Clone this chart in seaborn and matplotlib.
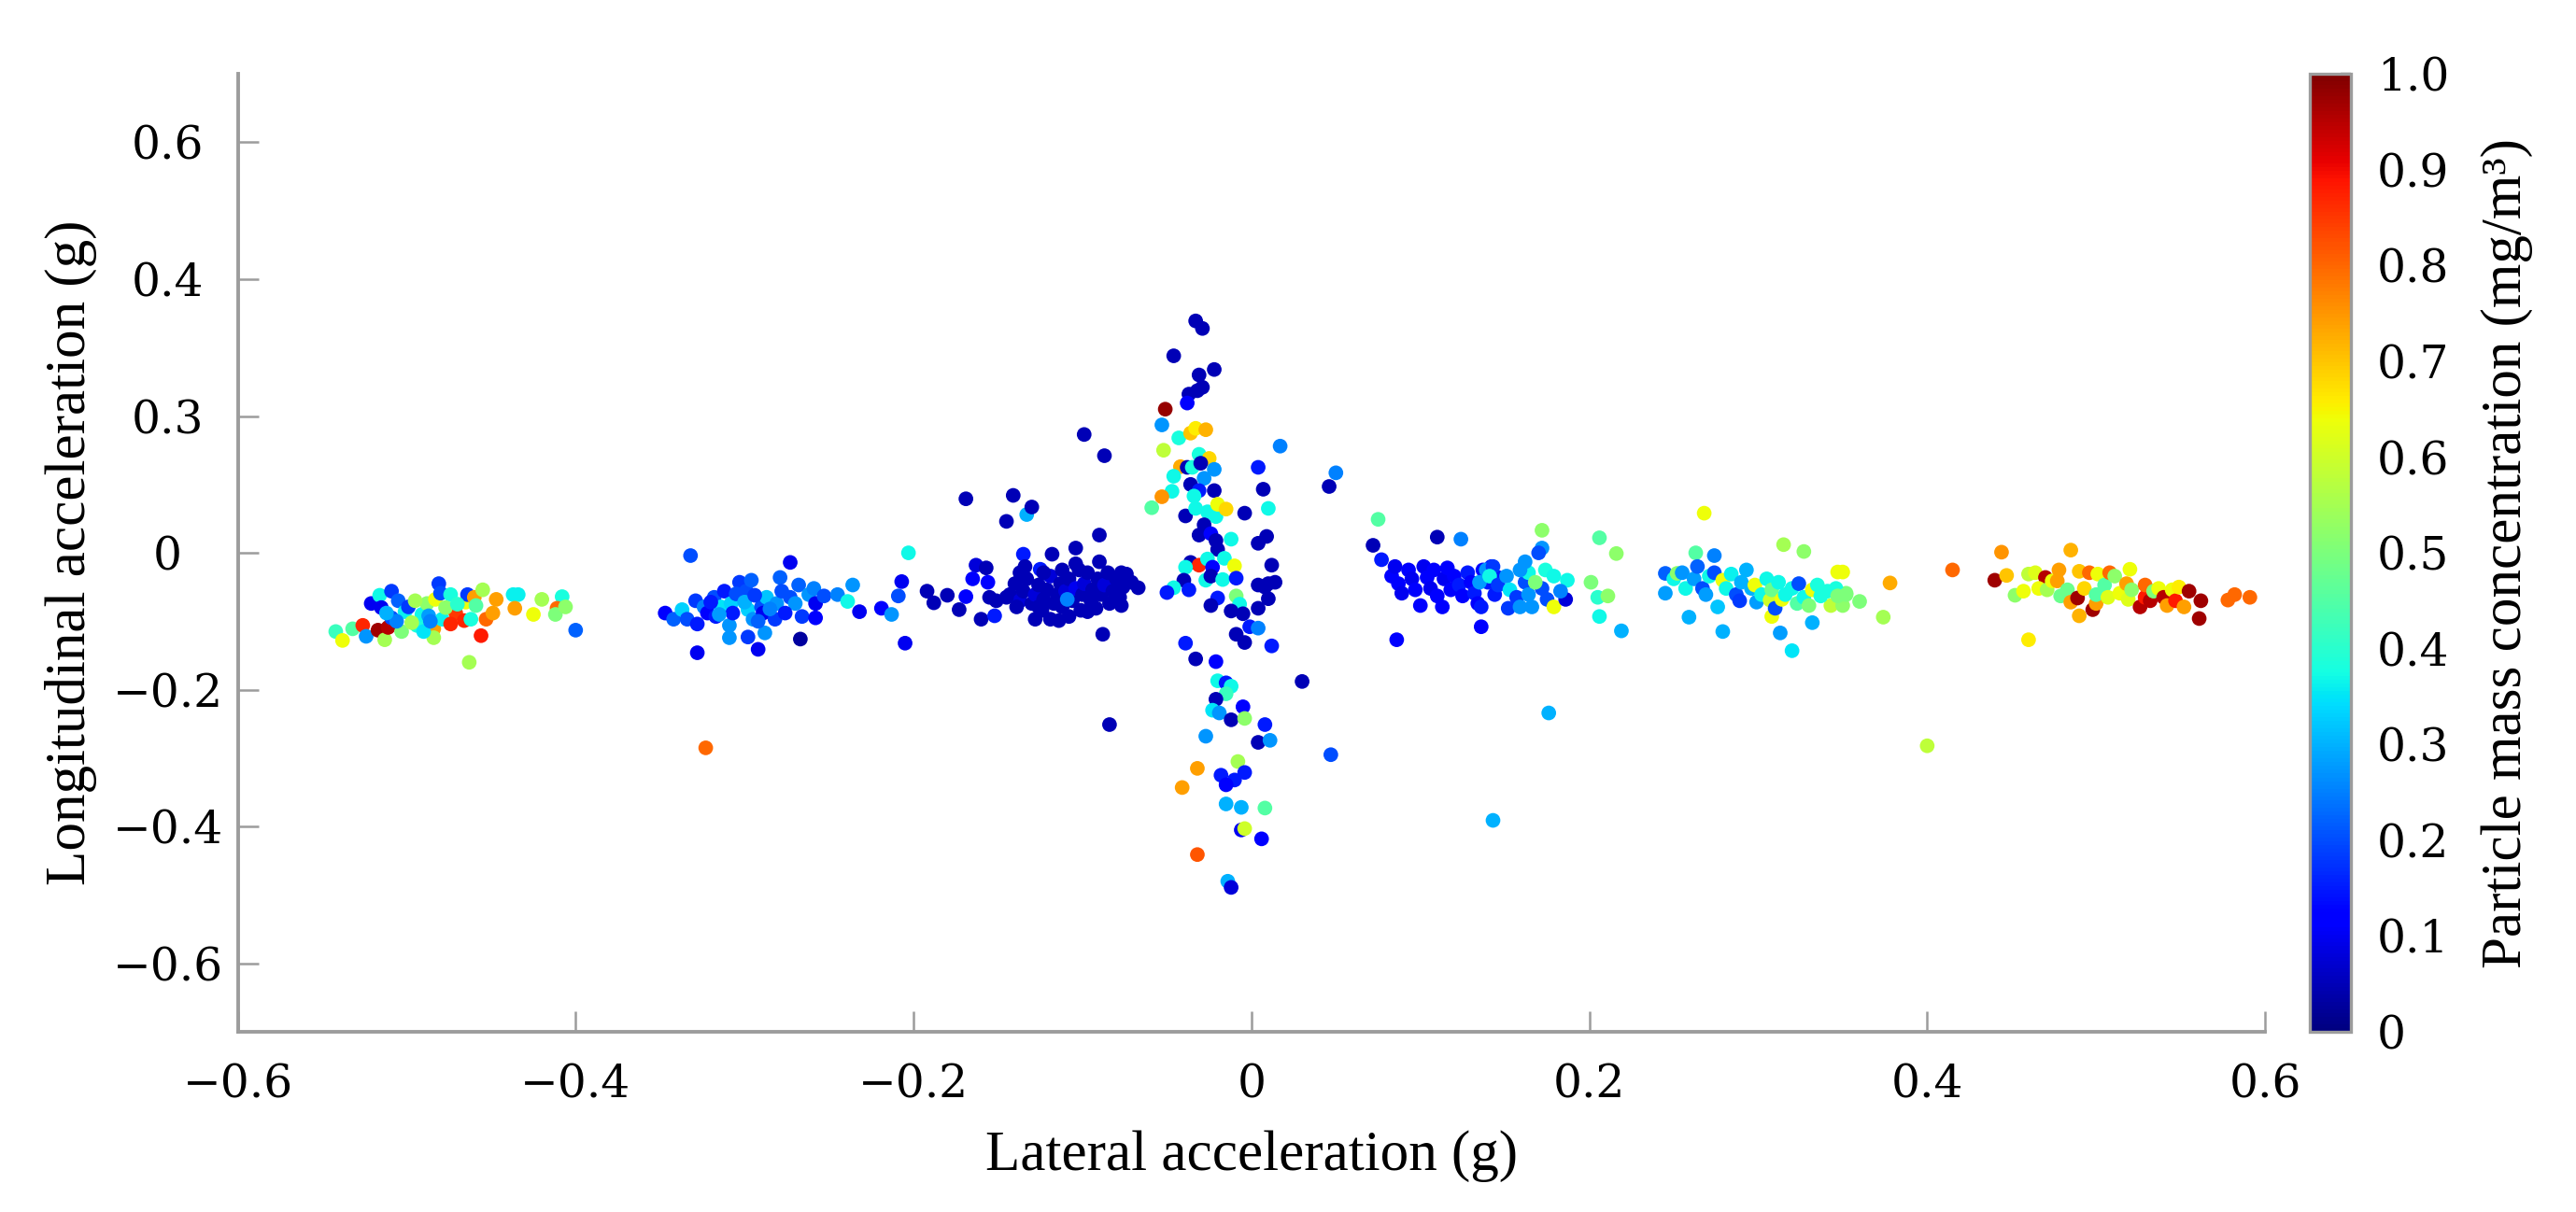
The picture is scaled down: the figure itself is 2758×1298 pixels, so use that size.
import numpy as np
import pandas as pd
import seaborn as sns
import matplotlib.pyplot as plt
from matplotlib.cm import ScalarMappable
from matplotlib.colors import Normalize

# (lateral g, longitudinal g, particle mass concentration mg/m3)
left_turn_hard = [
    (-0.542, -0.115, 0.42), (-0.538, -0.128, 0.64), (-0.532, -0.111, 0.45), (-0.526, -0.106, 0.87),
    (-0.524, -0.122, 0.27), (-0.521, -0.074, 0.10), (-0.516, -0.062, 0.37), (-0.515, -0.080, 0.10),
    (-0.517, -0.113, 0.97), (-0.513, -0.127, 0.55), (-0.511, -0.109, 0.95), (-0.509, -0.056, 0.18),
    (-0.509, -0.095, 0.20), (-0.505, -0.070, 0.22), (-0.501, -0.086, 0.36), (-0.499, -0.079, 0.18),
    (-0.503, -0.115, 0.50), (-0.506, -0.100, 0.25), (-0.494, -0.106, 0.38), (-0.491, -0.090, 0.37),
    (-0.488, -0.074, 0.52), (-0.487, -0.092, 0.28), (-0.483, -0.068, 0.64), (-0.481, -0.045, 0.18),
    (-0.480, -0.059, 0.20), (-0.484, -0.111, 0.74), (-0.484, -0.124, 0.55), (-0.479, -0.097, 0.36),
    (-0.474, -0.061, 0.38), (-0.471, -0.088, 0.85), (-0.474, -0.104, 0.87), (-0.466, -0.099, 0.87),
    (-0.465, -0.072, 0.64), (-0.464, -0.061, 0.18), (-0.462, -0.097, 0.38), (-0.460, -0.065, 0.74),
    (-0.459, -0.077, 0.45), (-0.456, -0.121, 0.88), (-0.455, -0.054, 0.55), (-0.453, -0.097, 0.80),
    (-0.449, -0.088, 0.74), (-0.447, -0.068, 0.74), (-0.463, -0.160, 0.55), (-0.437, -0.061, 0.36),
    (-0.434, -0.061, 0.36), (-0.436, -0.081, 0.74), (-0.425, -0.090, 0.64), (-0.420, -0.068, 0.55),
    (-0.408, -0.064, 0.38), (-0.411, -0.081, 0.80), (-0.412, -0.090, 0.50), (-0.406, -0.079, 0.52),
    (-0.400, -0.113, 0.22), (-0.497, -0.102, 0.55), (-0.490, -0.115, 0.35), (-0.477, -0.080, 0.52),
    (-0.470, -0.075, 0.40), (-0.495, -0.070, 0.55), (-0.512, -0.088, 0.30), (-0.486, -0.100, 0.25),
]

left_turn_mid = [
    (-0.332, -0.004, 0.20), (-0.347, -0.088, 0.12), (-0.342, -0.097, 0.22), (-0.337, -0.083, 0.33),
    (-0.334, -0.097, 0.20), (-0.329, -0.070, 0.18), (-0.328, -0.104, 0.15), (-0.328, -0.146, 0.10),
    (-0.324, -0.079, 0.25), (-0.322, -0.088, 0.12), (-0.318, -0.065, 0.20), (-0.317, -0.093, 0.15),
    (-0.314, -0.079, 0.35), (-0.312, -0.056, 0.15), (-0.309, -0.106, 0.27), (-0.308, -0.074, 0.33),
    (-0.307, -0.088, 0.15), (-0.309, -0.124, 0.27), (-0.303, -0.043, 0.18), (-0.302, -0.065, 0.33),
    (-0.299, -0.056, 0.20), (-0.298, -0.083, 0.33), (-0.298, -0.123, 0.18), (-0.296, -0.040, 0.22),
    (-0.295, -0.097, 0.27), (-0.292, -0.141, 0.10), (-0.290, -0.079, 0.20), (-0.289, -0.088, 0.10),
    (-0.288, -0.117, 0.27), (-0.287, -0.065, 0.32), (-0.282, -0.097, 0.18), (-0.281, -0.074, 0.27),
    (-0.279, -0.036, 0.22), (-0.278, -0.056, 0.20), (-0.273, -0.014, 0.10), (-0.273, -0.065, 0.20),
    (-0.270, -0.074, 0.27), (-0.268, -0.047, 0.22), (-0.267, -0.126, 0.03), (-0.266, -0.093, 0.18),
    (-0.262, -0.061, 0.27), (-0.259, -0.052, 0.25), (-0.258, -0.074, 0.10), (-0.258, -0.095, 0.12),
    (-0.253, -0.063, 0.20), (-0.245, -0.061, 0.25), (-0.239, -0.071, 0.37), (-0.236, -0.047, 0.27),
    (-0.232, -0.086, 0.10), (-0.219, -0.081, 0.12), (-0.213, -0.090, 0.27), (-0.209, -0.063, 0.20),
    (-0.207, -0.042, 0.10), (-0.205, -0.132, 0.10), (-0.203, 0.000, 0.37), (-0.323, -0.285, 0.80),
    (-0.305, -0.060, 0.20), (-0.300, -0.072, 0.30), (-0.294, -0.062, 0.18), (-0.285, -0.082, 0.25),
    (-0.276, -0.088, 0.15), (-0.292, -0.100, 0.22), (-0.315, -0.090, 0.28), (-0.320, -0.072, 0.15),
]

left_turn_soft = [
    (-0.192, -0.056, 0.05), (-0.188, -0.073, 0.05), (-0.180, -0.062, 0.05), (-0.173, -0.083, 0.05),
    (-0.169, 0.079, 0.05), (-0.169, -0.064, 0.12), (-0.163, -0.018, 0.08), (-0.165, -0.038, 0.12),
    (-0.160, -0.097, 0.05), (-0.157, -0.022, 0.05), (-0.156, -0.043, 0.12), (-0.155, -0.065, 0.05),
    (-0.152, -0.092, 0.15), (-0.151, -0.070, 0.05), (-0.145, 0.046, 0.05), (-0.141, 0.084, 0.05),
    (-0.135, -0.002, 0.15), (-0.133, 0.056, 0.30), (-0.130, 0.067, 0.05), (-0.125, -0.024, 0.15),
    (-0.118, -0.002, 0.05), (-0.114, -0.099, 0.05), (-0.104, 0.007, 0.05), (-0.090, 0.026, 0.05),
    (-0.088, -0.119, 0.05), (-0.084, -0.251, 0.05), (-0.099, 0.173, 0.05), (-0.087, 0.142, 0.05),
    (-0.143, -0.061, 0.05), (-0.140, -0.045, 0.05), (-0.137, -0.070, 0.08), (-0.135, -0.056, 0.05),
    (-0.133, -0.038, 0.05), (-0.130, -0.074, 0.05), (-0.128, -0.061, 0.08), (-0.126, -0.047, 0.05),
    (-0.124, -0.084, 0.05), (-0.123, -0.068, 0.05), (-0.121, -0.054, 0.05), (-0.119, -0.034, 0.08),
    (-0.117, -0.074, 0.05), (-0.115, -0.061, 0.05), (-0.113, -0.045, 0.05), (-0.112, -0.079, 0.05),
    (-0.110, -0.056, 0.08), (-0.108, -0.038, 0.05), (-0.106, -0.070, 0.05), (-0.104, -0.052, 0.10),
    (-0.102, -0.025, 0.05), (-0.101, -0.084, 0.05), (-0.100, -0.061, 0.05), (-0.099, -0.045, 0.08),
    (-0.097, -0.029, 0.05), (-0.095, -0.070, 0.05), (-0.094, -0.054, 0.05), (-0.092, -0.081, 0.05),
    (-0.091, -0.038, 0.05), (-0.090, -0.013, 0.05), (-0.089, -0.061, 0.05), (-0.087, -0.047, 0.08),
    (-0.085, -0.029, 0.05), (-0.084, -0.074, 0.05), (-0.082, -0.056, 0.05), (-0.080, -0.038, 0.05),
    (-0.078, -0.065, 0.05), (-0.077, -0.029, 0.05), (-0.076, -0.050, 0.05), (-0.074, -0.031, 0.05),
    (-0.071, -0.043, 0.05), (-0.067, -0.051, 0.05), (-0.077, -0.077, 0.05), (-0.134, -0.020, 0.05),
    (-0.126, -0.079, 0.05), (-0.119, -0.097, 0.05), (-0.108, -0.093, 0.05), (-0.097, -0.086, 0.05),
    (-0.104, -0.016, 0.05), (-0.112, -0.025, 0.05), (-0.123, -0.029, 0.05), (-0.137, -0.029, 0.05),
    (-0.145, -0.065, 0.05), (-0.139, -0.079, 0.05), (-0.128, -0.097, 0.05), (-0.109, -0.068, 0.25),
]

straight = [
    (-0.033, 0.339, 0.05), (-0.029, 0.328, 0.05), (-0.046, 0.288, 0.05), (-0.022, 0.268, 0.05),
    (-0.031, 0.260, 0.05), (-0.029, 0.242, 0.05), (-0.037, 0.232, 0.05), (-0.032, 0.237, 0.05),
    (-0.038, 0.219, 0.12), (-0.051, 0.210, 0.98), (-0.053, 0.187, 0.27), (-0.043, 0.168, 0.38),
    (-0.036, 0.175, 0.70), (-0.033, 0.182, 0.66), (-0.027, 0.180, 0.72), (-0.052, 0.150, 0.58),
    (-0.031, 0.144, 0.38), (-0.025, 0.138, 0.68), (-0.042, 0.126, 0.73), (-0.038, 0.125, 0.05),
    (-0.035, 0.125, 0.38), (-0.030, 0.131, 0.05), (-0.022, 0.122, 0.27), (-0.046, 0.112, 0.37),
    (-0.028, 0.109, 0.27), (-0.036, 0.100, 0.05), (-0.047, 0.090, 0.37), (-0.053, 0.082, 0.75),
    (-0.059, 0.066, 0.45), (-0.031, 0.091, 0.15), (-0.022, 0.091, 0.05), (-0.034, 0.083, 0.37),
    (-0.039, 0.054, 0.05), (-0.033, 0.065, 0.37), (-0.026, 0.060, 0.37), (-0.021, 0.053, 0.37),
    (-0.020, 0.071, 0.64), (-0.015, 0.064, 0.68), (-0.028, 0.041, 0.05), (-0.031, 0.026, 0.05),
    (-0.024, 0.028, 0.12), (-0.021, 0.018, 0.05), (-0.020, 0.005, 0.05), (-0.012, 0.020, 0.37),
    (-0.004, 0.058, 0.05), (0.004, 0.014, 0.05), (0.009, 0.024, 0.05), (0.012, -0.018, 0.05),
    (0.010, 0.065, 0.37), (0.007, 0.093, 0.05), (0.004, 0.125, 0.15), (0.017, 0.156, 0.25),
    (0.046, 0.097, 0.05), (0.050, 0.117, 0.25), (-0.036, -0.014, 0.05), (-0.031, -0.018, 0.87),
    (-0.039, -0.021, 0.37), (-0.026, -0.009, 0.37), (-0.023, -0.021, 0.12), (-0.016, -0.008, 0.37),
    (-0.010, -0.019, 0.64), (-0.040, -0.040, 0.05), (-0.037, -0.054, 0.15), (-0.046, -0.051, 0.37),
    (-0.050, -0.058, 0.15), (-0.027, -0.040, 0.37), (-0.024, -0.034, 0.05), (-0.017, -0.039, 0.37),
    (-0.009, -0.037, 0.15), (-0.020, -0.066, 0.15), (-0.024, -0.077, 0.05), (-0.009, -0.063, 0.50),
    (-0.007, -0.075, 0.37), (-0.012, -0.085, 0.05), (-0.005, -0.089, 0.05), (0.004, -0.081, 0.05),
    (0.004, -0.047, 0.05), (0.010, -0.045, 0.05), (0.014, -0.043, 0.05), (0.010, -0.067, 0.05),
    (0.008, -0.050, 0.05), (-0.001, -0.108, 0.15), (0.004, -0.110, 0.25), (-0.009, -0.119, 0.05),
    (-0.004, -0.131, 0.05), (0.012, -0.136, 0.15), (-0.039, -0.132, 0.15), (-0.033, -0.155, 0.05),
    (-0.021, -0.159, 0.12), (-0.020, -0.187, 0.37), (-0.015, -0.190, 0.15), (-0.012, -0.195, 0.37),
    (-0.015, -0.206, 0.42), (-0.021, -0.214, 0.05), (0.030, -0.188, 0.05), (-0.005, -0.225, 0.12),
    (-0.023, -0.230, 0.35), (-0.019, -0.234, 0.27), (-0.012, -0.244, 0.05), (-0.004, -0.242, 0.52),
    (0.008, -0.251, 0.15), (0.004, -0.277, 0.05), (0.011, -0.274, 0.27), (-0.027, -0.268, 0.27),
    (-0.032, -0.315, 0.74), (-0.041, -0.343, 0.74), (-0.008, -0.305, 0.55), (-0.018, -0.325, 0.15),
    (-0.010, -0.332, 0.15), (-0.004, -0.321, 0.15), (-0.015, -0.339, 0.12), (-0.015, -0.367, 0.30),
    (-0.006, -0.372, 0.30), (0.008, -0.373, 0.45), (0.047, -0.295, 0.20), (-0.006, -0.405, 0.10),
    (-0.004, -0.403, 0.60), (0.006, -0.418, 0.12), (-0.032, -0.441, 0.82), (-0.014, -0.480, 0.30),
    (-0.012, -0.489, 0.08), (0.075, 0.049, 0.45), (0.072, 0.011, 0.05), (0.077, -0.010, 0.15),
    (0.110, 0.023, 0.05), (0.124, 0.020, 0.25), (0.086, -0.127, 0.12), (0.136, -0.108, 0.12),
]

right_turn_soft = [
    (0.083, -0.034, 0.12), (0.085, -0.020, 0.10), (0.087, -0.045, 0.12), (0.089, -0.059, 0.10),
    (0.093, -0.025, 0.12), (0.095, -0.038, 0.10), (0.097, -0.054, 0.12), (0.100, -0.077, 0.12),
    (0.102, -0.020, 0.10), (0.104, -0.036, 0.12), (0.106, -0.052, 0.10), (0.108, -0.025, 0.12),
    (0.110, -0.063, 0.12), (0.113, -0.079, 0.12), (0.114, -0.038, 0.10), (0.116, -0.022, 0.12),
    (0.118, -0.054, 0.12), (0.120, -0.034, 0.12), (0.123, -0.047, 0.15), (0.125, -0.063, 0.12),
    (0.128, -0.029, 0.15), (0.130, -0.043, 0.12), (0.132, -0.059, 0.15), (0.134, -0.074, 0.12),
    (0.136, -0.079, 0.15), (0.137, -0.025, 0.12), (0.140, -0.043, 0.15), (0.142, -0.020, 0.15),
    (0.144, -0.061, 0.15), (0.146, -0.036, 0.15), (0.139, -0.025, 0.27), (0.143, -0.020, 0.18),
    (0.135, -0.043, 0.28), (0.141, -0.034, 0.37), (0.146, -0.047, 0.18), (0.151, -0.034, 0.27),
    (0.153, -0.054, 0.35), (0.152, -0.081, 0.18), (0.157, -0.065, 0.18), (0.159, -0.079, 0.27),
    (0.162, -0.043, 0.20), (0.164, -0.061, 0.27), (0.164, -0.029, 0.37), (0.166, -0.079, 0.27),
    (0.172, -0.052, 0.20), (0.175, -0.068, 0.20), (0.159, -0.025, 0.27), (0.172, 0.033, 0.52),
    (0.172, 0.007, 0.27), (0.170, 0.000, 0.20), (0.162, -0.013, 0.27), (0.206, 0.022, 0.45),
    (0.216, -0.001, 0.52), (0.201, -0.043, 0.50), (0.205, -0.065, 0.40), (0.211, -0.063, 0.52),
    (0.206, -0.093, 0.37), (0.219, -0.114, 0.30), (0.179, -0.079, 0.64), (0.186, -0.068, 0.08),
    (0.187, -0.040, 0.37), (0.183, -0.056, 0.25), (0.174, -0.025, 0.38), (0.168, -0.043, 0.50),
    (0.179, -0.034, 0.37), (0.176, -0.234, 0.30), (0.143, -0.391, 0.30),
]

right_turn_mid = [
    (0.268, 0.058, 0.64), (0.315, 0.012, 0.55), (0.327, 0.002, 0.52), (0.263, 0.000, 0.45),
    (0.274, -0.004, 0.25), (0.245, -0.030, 0.22), (0.245, -0.059, 0.28), (0.259, -0.094, 0.30),
    (0.276, -0.079, 0.32), (0.279, -0.115, 0.30), (0.313, -0.117, 0.28), (0.320, -0.143, 0.35),
    (0.332, -0.102, 0.30), (0.308, -0.093, 0.64), (0.347, -0.028, 0.64), (0.350, -0.028, 0.64),
    (0.343, -0.077, 0.58), (0.350, -0.077, 0.52), (0.360, -0.071, 0.50), (0.352, -0.059, 0.50),
    (0.378, -0.044, 0.73), (0.374, -0.094, 0.55), (0.250, -0.038, 0.37), (0.252, -0.030, 0.52),
    (0.255, -0.029, 0.27), (0.257, -0.052, 0.37), (0.262, -0.038, 0.28), (0.264, -0.020, 0.22),
    (0.267, -0.052, 0.20), (0.269, -0.061, 0.28), (0.271, -0.034, 0.37), (0.274, -0.029, 0.20),
    (0.279, -0.040, 0.64), (0.281, -0.052, 0.37), (0.284, -0.031, 0.36), (0.287, -0.061, 0.20),
    (0.289, -0.070, 0.18), (0.290, -0.043, 0.30), (0.293, -0.025, 0.30), (0.296, -0.052, 0.30),
    (0.298, -0.047, 0.64), (0.299, -0.072, 0.28), (0.302, -0.061, 0.37), (0.305, -0.038, 0.37),
    (0.307, -0.069, 0.60), (0.308, -0.054, 0.48), (0.310, -0.081, 0.20), (0.312, -0.043, 0.37),
    (0.314, -0.068, 0.64), (0.316, -0.061, 0.37), (0.320, -0.052, 0.37), (0.323, -0.074, 0.45),
    (0.324, -0.045, 0.20), (0.327, -0.065, 0.37), (0.330, -0.077, 0.50), (0.332, -0.054, 0.64),
    (0.335, -0.047, 0.38), (0.337, -0.063, 0.38), (0.341, -0.056, 0.38), (0.346, -0.052, 0.38),
    (0.347, -0.063, 0.50), (0.352, -0.061, 0.50), (0.400, -0.282, 0.58),
]

right_turn_hard = [
    (0.415, -0.025, 0.80), (0.444, 0.001, 0.75), (0.440, -0.040, 0.97), (0.447, -0.033, 0.70),
    (0.452, -0.062, 0.52), (0.457, -0.056, 0.64), (0.460, -0.031, 0.58), (0.460, -0.127, 0.66),
    (0.485, 0.004, 0.72), (0.464, -0.029, 0.62), (0.470, -0.036, 0.95), (0.466, -0.052, 0.64),
    (0.471, -0.054, 0.55), (0.474, -0.041, 0.64), (0.478, -0.025, 0.74), (0.477, -0.041, 0.74),
    (0.479, -0.063, 0.48), (0.483, -0.054, 0.48), (0.485, -0.072, 0.74), (0.489, -0.066, 0.97),
    (0.490, -0.027, 0.70), (0.490, -0.092, 0.72), (0.493, -0.052, 0.68), (0.496, -0.029, 0.80),
    (0.498, -0.083, 0.97), (0.500, -0.074, 0.74), (0.500, -0.061, 0.45), (0.501, -0.031, 0.64),
    (0.505, -0.047, 0.45), (0.507, -0.065, 0.62), (0.508, -0.029, 0.80), (0.511, -0.034, 0.52),
    (0.514, -0.059, 0.64), (0.518, -0.045, 0.74), (0.520, -0.024, 0.64), (0.519, -0.068, 0.62),
    (0.521, -0.054, 0.52), (0.526, -0.079, 0.95), (0.529, -0.065, 0.88), (0.529, -0.047, 0.80),
    (0.532, -0.070, 0.95), (0.534, -0.056, 0.50), (0.537, -0.052, 0.64), (0.540, -0.065, 0.95),
    (0.542, -0.077, 0.74), (0.545, -0.054, 0.64), (0.547, -0.070, 0.88), (0.549, -0.050, 0.66),
    (0.552, -0.079, 0.74), (0.555, -0.056, 0.97), (0.562, -0.070, 0.97), (0.561, -0.096, 0.97),
    (0.578, -0.069, 0.80), (0.582, -0.061, 0.80), (0.591, -0.065, 0.80),
]

x_ticks = [-0.6, -0.4, -0.2, 0, 0.2, 0.4, 0.6]
x_labels = ["\u22120.6", "\u22120.4", "\u22120.2", "0", "0.2", "0.4", "0.6"]
y_ticks = [0.6, 0.4, 0.2, 0, -0.2, -0.4, -0.6]
y_labels = ["0.6", "0.4", "0.3", "0", "\u22120.2", "\u22120.4", "\u22120.6"]
cbar_ticks = [0, 0.1, 0.2, 0.3, 0.4, 0.5, 0.6, 0.7, 0.8, 0.9, 1.0]
cbar_labels = ["0", "0.1", "0.2", "0.3", "0.4", "0.5", "0.6", "0.7", "0.8", "0.9", "1.0"]

groups = [left_turn_hard, left_turn_mid, left_turn_soft, straight,
          right_turn_soft, right_turn_mid, right_turn_hard]
df = pd.DataFrame([p for g in groups for p in g], columns=["lat", "lon", "pm"])

sns.set_style("white")
plt.rcParams["font.family"] = ["DejaVu Serif"]
plt.rcParams["text.color"] = "black"
tick_font = {"family": "DejaVu Serif", "size": 17.5, "color": "black"}
label_font = {"family": "Liberation Serif", "size": 22, "color": "black"}
gray = "#9c9c9c"
jet = plt.get_cmap("jet")

fig = plt.figure(figsize=(13.79, 6.49), dpi=200)
ax = fig.add_axes([0.0923, 0.1487, 0.7870, 0.7903])

sns.scatterplot(data=df, x="lat", y="lon", hue="pm", palette=jet,
                hue_norm=(0, 1), s=32, linewidth=0, legend=False, ax=ax)

ax.set_xlim(-0.6, 0.6)
ax.set_ylim(-0.7, 0.7)
sns.despine(ax=ax)
for side in ["left", "bottom"]:
    ax.spines[side].set_color(gray)
    ax.spines[side].set_linewidth(1.4)

ax.set_xticks(x_ticks)
ax.set_xticklabels(x_labels, fontdict=tick_font)
ax.set_yticks(y_ticks)
ax.set_yticklabels(y_labels, fontdict=tick_font)
ax.tick_params(axis="both", which="major", bottom=True, left=True,
               direction="in", length=8, width=0.9, color=gray)
ax.tick_params(axis="x", pad=12)
ax.tick_params(axis="y", pad=27)
for lab in ax.get_yticklabels():
    lab.set_horizontalalignment("center")

ax.set_xlabel("Lateral acceleration (g)", fontdict=label_font, labelpad=9)
ax.set_ylabel("Longitudinal acceleration (g)", fontdict=label_font, labelpad=6)

cax = fig.add_axes([0.8967, 0.1487, 0.016, 0.7903])
sm = ScalarMappable(norm=Normalize(0, 1), cmap=jet)
cbar = fig.colorbar(sm, cax=cax)
cbar.set_ticks(cbar_ticks)
cbar.set_ticklabels(cbar_labels, fontdict=tick_font)
cbar.ax.tick_params(right=True, direction="in", length=4, width=0.8,
                    color="black", pad=10)
cbar.outline.set_edgecolor(gray)
cbar.outline.set_linewidth(1.2)
cbar.set_label("Particle mass concentration (mg/m\u00b3)", fontdict=label_font, labelpad=12)

fig.savefig("out.png", dpi=200)
